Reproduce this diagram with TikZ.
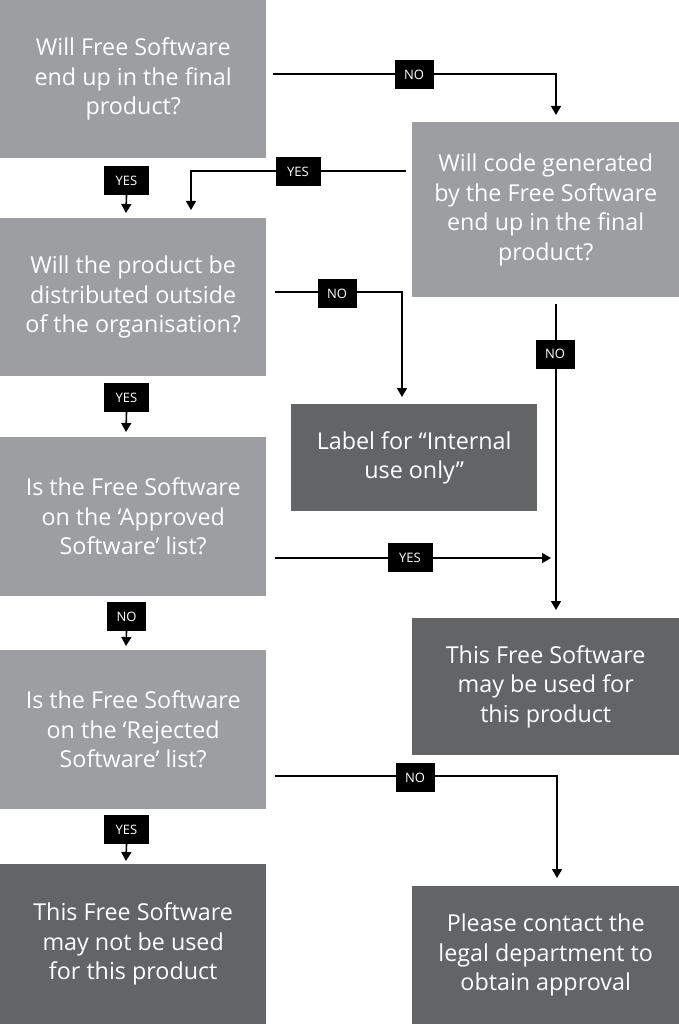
\documentclass[tikz,border=0pt]{standalone}
\usepackage{fontspec}
\setmainfont{Open Sans}
\usetikzlibrary{arrows.meta}
\definecolor{lightbox}{HTML}{9D9EA2}
\definecolor{darkbox}{HTML}{636466}
\tikzset{
  box/.style={anchor=north west, inner sep=0pt, text=white, align=center,
    font=\fontsize{23.3}{29.5}\selectfont},
  qbox/.style={box, fill=lightbox},
  rbox/.style={box, fill=darkbox},
  tag/.style={fill=black, text=white, font=\fontsize{13}{13}\selectfont,
    minimum height=29pt, minimum width=39pt, inner xsep=0pt, inner ysep=0pt},
  ytag/.style={tag, minimum width=45pt},
  arr/.style={line width=1.6pt, -{Triangle[width=10pt,length=9pt]}}
}
\begin{document}
\begin{tikzpicture}[x=1pt,y=-1pt]
\useasboundingbox (0,0) rectangle (679,1024);
% boxes
\node[qbox, minimum width=266pt, minimum height=158pt] (b1) at (0,0)
  {Will Free Software\\end up in the final\\product?};
\node[qbox, minimum width=267pt, minimum height=175pt] (b2) at (412,122)
  {Will code generated\\by the Free Software\\end up in the final\\product?};
\node[qbox, minimum width=266pt, minimum height=158pt] (b3) at (0,218)
  {Will the product be\\distributed outside\\of the organisation?};
\node[rbox, minimum width=246pt, minimum height=107pt] (b4) at (291,404)
  {Label for “Internal\\use only”};
\node[qbox, minimum width=266pt, minimum height=159pt] (b5) at (0,437)
  {Is the Free Software\\on the ‘Approved\\Software’ list?};
\node[rbox, minimum width=267pt, minimum height=137pt] (b6) at (412,618)
  {This Free Software\\may be used for\\this product};
\node[qbox, minimum width=266pt, minimum height=159pt] (b7) at (0,650)
  {Is the Free Software\\on the ‘Rejected\\Software’ list?};
\node[rbox, minimum width=266pt, minimum height=160pt] (b8) at (0,864)
  {This Free Software\\may not be used\\for this product};
\node[rbox, minimum width=267pt, minimum height=138pt] (b9) at (412,886)
  {Please contact the\\legal department to\\obtain approval};

% connector end points
\coordinate (s1) at (273,74);  \coordinate (e1) at (556,115);
\coordinate (s3) at (406,171); \coordinate (e3) at (191,210);
\coordinate (s4) at (275,292); \coordinate (e4) at (402,397);
\coordinate (s6) at (556,304); \coordinate (e6) at (556,610);
\coordinate (s7) at (275,558); \coordinate (e7) at (551,558);
\coordinate (s9) at (275,776); \coordinate (e9) at (557,878);
\coordinate (e2) at (126,213);
\coordinate (e5) at (126,432);
\coordinate (e8) at (126,646);
\coordinate (e10) at (126,861);

% connectors
\draw[arr] (s1) -| (e1);
\draw[arr] (s3) -| (e3);
\draw[arr] (s4) -| (e4);
\draw[arr] (s6) -- (e6);
\draw[arr] (s7) -- (e7);
\draw[arr] (s9) -| (e9);

% labels
\node[tag] (l1) at (414,74.5) {NO};
\node[ytag] (l3) at (298,172) {YES};
\node[tag] (l4) at (337,293.5) {NO};
\node[tag] (l6) at (555,354) {NO};
\node[ytag] (l7) at (410,557.5) {YES};
\node[tag] (l9) at (415,777.5) {NO};
\node[ytag] (l2) at (126.5,180.5) {YES};
\node[ytag] (l5) at (126.5,397.5) {YES};
\node[tag] (l8) at (126.5,616.5) {NO};
\node[ytag] (l10) at (126.5,829.5) {YES};

\draw[arr] (l2.south) -- (e2);
\draw[arr] (l5.south) -- (e5);
\draw[arr] (l8.south) -- (e8);
\draw[arr] (l10.south) -- (e10);
\end{tikzpicture}
\end{document}
